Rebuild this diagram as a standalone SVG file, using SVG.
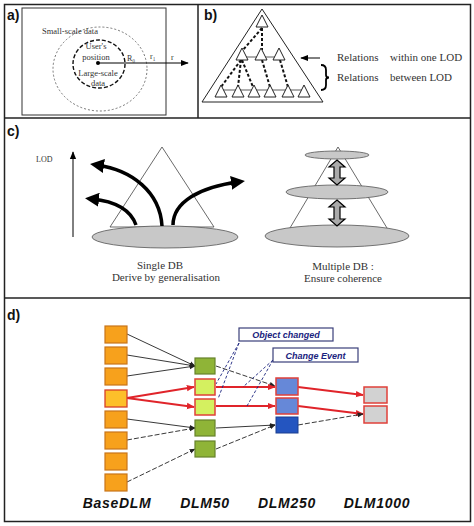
<svg xmlns="http://www.w3.org/2000/svg" width="474" height="526" viewBox="0 0 474 526">
<style>
.frame{fill:none;stroke:#222;stroke-width:1.5}
.lbl{font-family:"Liberation Sans",Arial,sans-serif;font-weight:bold;font-size:14px;fill:#111}
.ser{font-family:"Liberation Serif","Times New Roman",serif;fill:#333}
.thin{fill:none;stroke:#333;stroke-width:0.8}
.tri{fill:#fff;stroke:#222;stroke-width:1}
.dash{fill:none;stroke:#111;stroke-width:2;stroke-dasharray:3,2}
.curve{fill:none;stroke:#000;stroke-width:3.5}
.ell{fill:#c8c8c8;stroke:#555;stroke-width:0.8}
.dbl{fill:#aaa;stroke:#000;stroke-width:1.2}
.ob{fill:#f7a11c;stroke:#c9751a;stroke-width:1.2}
.gb{fill:#8fb437;stroke:#66822a;stroke-width:1.2}
.lg{fill:#d4f060;stroke:#e0403a;stroke-width:1.5}
.bb{fill:#6688d8;stroke:#e0403a;stroke-width:1.5}
.db{fill:#2455c0;stroke:#1b3f90;stroke-width:1}
.gy{fill:#d2d2d2;stroke:#e0403a;stroke-width:1.5}
.bk{fill:none;stroke:#222;stroke-width:0.9}
.bkd{fill:none;stroke:#222;stroke-width:0.9;stroke-dasharray:5,2}
.rd{fill:none;stroke:#e0242a;stroke-width:1.8}
.call{fill:none;stroke:#1a237e;stroke-width:0.9;stroke-dasharray:3,2}
.cb{fill:#fff;stroke:#3a3f7a;stroke-width:1.2}
.ct{font-family:"Liberation Sans",Arial,sans-serif;font-weight:bold;font-style:italic;font-size:9px;fill:#1a237e}
.dl{font-family:"Liberation Sans",Arial,sans-serif;font-weight:bold;font-style:italic;font-size:14px;fill:#111;letter-spacing:0.7px}
</style>
<defs>
<marker id="ahs" viewBox="0 0 10 10" refX="9" refY="5" markerWidth="8" markerHeight="8" markerUnits="userSpaceOnUse" orient="auto"><path d="M0,1 L10,5 L0,9 z" fill="#000"/></marker>
<marker id="ahb" viewBox="0 0 10 10" refX="5" refY="5" markerWidth="4" markerHeight="4" orient="auto"><path d="M0,0 L10,5 L0,10 z" fill="#000"/></marker>
<marker id="ahk" viewBox="0 0 10 10" refX="9" refY="5" markerWidth="6" markerHeight="6" markerUnits="userSpaceOnUse" orient="auto"><path d="M0,1 L10,5 L0,9 z" fill="#222"/></marker>
<marker id="ahr" viewBox="0 0 10 10" refX="9" refY="5" markerWidth="8" markerHeight="8" markerUnits="userSpaceOnUse" orient="auto"><path d="M0,1 L10,5 L0,9 z" fill="#e0242a"/></marker>
</defs>
<rect width="474" height="526" fill="#fff"/>
<!-- frames -->
<rect class="frame" x="4.5" y="4.5" width="466" height="517"/>
<line class="frame" x1="4.5" y1="118" x2="470.5" y2="118"/>
<line class="frame" x1="4.5" y1="298" x2="470.5" y2="298"/>
<line class="frame" x1="198" y1="4.5" x2="198" y2="118"/>

<!-- panel a -->
<g id="panel-a">
<text class="lbl" x="7" y="20">a)</text>
<rect x="22" y="8" width="144" height="107" fill="none" stroke="#333" stroke-width="1"/>
<ellipse cx="100" cy="69" rx="47" ry="42" fill="none" stroke="#666" stroke-width="0.9" stroke-dasharray="2,2"/>
<ellipse cx="99" cy="64" rx="26" ry="24" fill="none" stroke="#111" stroke-width="1.4" stroke-dasharray="4,2"/>
<line x1="98" y1="63" x2="188" y2="63" stroke="#000" stroke-width="1" marker-end="url(#ahs)"/>
<circle cx="98" cy="63" r="2" fill="#000"/>
<text class="ser" x="42" y="34" font-size="8.5">Small-scale data</text>
<text class="ser" x="96" y="49" font-size="8.5" text-anchor="middle">User's</text>
<text class="ser" x="96" y="60" font-size="8.5" text-anchor="middle">position</text>
<text class="ser" x="98" y="76" font-size="8.5" text-anchor="middle">Large-scale</text>
<text class="ser" x="98" y="86" font-size="8.5" text-anchor="middle">data</text>
<text class="ser" x="127" y="61" font-size="8">R₀</text>
<text class="ser" x="150" y="59" font-size="8">r₁</text>
<text class="ser" x="171" y="60" font-size="8">r</text>
</g>

<!-- panel b -->
<g id="panel-b">
<text class="lbl" x="204" y="20">b)</text>
<polygon class="tri" points="262,9 202,102 323,102"/>
<line class="thin" x1="242" y1="57" x2="279" y2="57"/>
<line class="thin" x1="221" y1="90" x2="304" y2="90"/>
<g class="dash">
<line x1="262" y1="28" x2="243" y2="50"/>
<line x1="262" y1="28" x2="262" y2="50"/>
<line x1="241" y1="60" x2="221" y2="87"/>
<line x1="241" y1="60" x2="238" y2="87"/>
<line x1="242" y1="60" x2="253" y2="87"/>
<line x1="262" y1="60" x2="270" y2="87"/>
<line x1="280" y1="60" x2="288" y2="87"/>
</g>
<polygon class="tri" points="262,15 256,27 268,27"/>
<polygon class="tri" points="242,48 236,60 248,60"/>
<polygon class="tri" points="261,48 255,60 267,60"/>
<polygon class="tri" points="279,48 273,60 285,60"/>
<polygon class="tri" points="221,85 215,97 227,97"/>
<polygon class="tri" points="238,85 232,97 244,97"/>
<polygon class="tri" points="254,85 248,97 260,97"/>
<polygon class="tri" points="270,85 264,97 276,97"/>
<polygon class="tri" points="288,85 282,97 294,97"/>
<polygon class="tri" points="304,85 298,97 310,97"/>
<line x1="320" y1="58" x2="301" y2="58" stroke="#000" stroke-width="1" marker-end="url(#ahs)"/>
<path d="M321,65 Q326,65 326,70 L326,75 Q326,77.5 329,77.5 Q326,77.5 326,80 L326,85 Q326,90 321,90" fill="none" stroke="#000" stroke-width="1.8"/>
<text class="ser" x="337" y="61" font-size="11">Relations</text>
<text class="ser" x="390" y="61" font-size="11">within one LOD</text>
<text class="ser" x="337" y="81" font-size="11">Relations</text>
<text class="ser" x="390" y="81" font-size="11">between LOD</text>
</g>

<!-- panel c -->
<g id="panel-c">
<text class="lbl" x="7" y="136">c)</text>
<line x1="73" y1="237" x2="73" y2="152" stroke="#000" stroke-width="1" marker-end="url(#ahs)"/>
<text class="ser" x="36" y="162" font-size="8">LOD</text>
<polygon points="162,147 110,227 214,227" fill="#fff" stroke="#444" stroke-width="0.8"/>
<ellipse class="ell" cx="165" cy="237" rx="73" ry="11"/>
<path class="curve" d="M162,226 C160,192 132,170 97,165" marker-end="url(#ahb)"/>
<path class="curve" d="M136,225 C130,208 112,201 92,199" marker-end="url(#ahb)"/>
<path class="curve" d="M173,225 C173,202 200,187 238,182" marker-end="url(#ahb)"/>
<text class="ser" x="160" y="269" font-size="11" text-anchor="middle">Single DB</text>
<text class="ser" x="166" y="281" font-size="11" text-anchor="middle">Derive  by generalisation</text>

<polygon points="338,147 287,233 390,233" fill="#fff" stroke="#444" stroke-width="0.8"/>
<ellipse class="ell" cx="337" cy="155" rx="32" ry="4"/>
<ellipse class="ell" cx="337" cy="192" rx="51" ry="7"/>
<ellipse class="ell" cx="337" cy="236" rx="72" ry="11"/>
<polygon class="dbl" points="337,160 345,167 340,167 340,178 345,178 337,185 329,178 334,178 334,167 329,167"/>
<polygon class="dbl" points="337,200 345,207 340,207 340,219 345,219 337,226 329,219 334,219 334,207 329,207"/>
<text class="ser" x="343" y="270" font-size="11" text-anchor="middle">Multiple DB :</text>
<text class="ser" x="343" y="282" font-size="11" text-anchor="middle">Ensure  coherence</text>
</g>

<!-- panel d -->
<text class="lbl" x="7" y="320">d)</text>
<g id="connectors">
<line class="bk" x1="127" y1="334" x2="195" y2="366" marker-end="url(#ahk)"/>
<line class="bk" x1="127" y1="355" x2="195" y2="366" marker-end="url(#ahk)"/>
<line class="bk" x1="127" y1="376" x2="195" y2="366" marker-end="url(#ahk)"/>
<line class="rd" x1="127" y1="398" x2="194" y2="387" marker-end="url(#ahr)"/>
<line class="rd" x1="127" y1="398" x2="194" y2="407" marker-end="url(#ahr)"/>
<line class="bk" x1="127" y1="419" x2="195" y2="428" marker-end="url(#ahk)"/>
<line class="bkd" x1="127" y1="440" x2="195" y2="428" marker-end="url(#ahk)"/>
<line class="bkd" x1="127" y1="482" x2="195" y2="449" marker-end="url(#ahk)"/>
<line class="bkd" x1="216" y1="366" x2="275" y2="386" marker-end="url(#ahk)"/>
<line class="rd" x1="216" y1="387" x2="275" y2="387" marker-end="url(#ahr)"/>
<line class="rd" x1="216" y1="406" x2="275" y2="406" marker-end="url(#ahr)"/>
<line class="bk" x1="216" y1="428" x2="275" y2="425" stroke="#777" marker-end="url(#ahk)"/>
<line class="bkd" x1="216" y1="449" x2="275" y2="425" marker-end="url(#ahk)"/>
<line class="rd" x1="298" y1="387" x2="363" y2="395" marker-end="url(#ahr)"/>
<line class="rd" x1="298" y1="406" x2="363" y2="414" marker-end="url(#ahr)"/>
<line class="bkd" x1="298" y1="425" x2="363" y2="414" marker-end="url(#ahk)"/>
<line class="call" x1="239" y1="343" x2="216" y2="384"/>
<line class="call" x1="239" y1="343" x2="218" y2="399"/>
<line class="call" x1="273" y1="360" x2="243" y2="387"/>
<line class="call" x1="273" y1="360" x2="247" y2="406"/>
</g>
<g id="base-dlm">
<rect class="ob" x="105" y="326" width="22" height="17"/>
<rect class="ob" x="105" y="347" width="22" height="17"/>
<rect class="ob" x="105" y="368" width="22" height="17"/>
<rect x="105" y="390" width="22" height="17" fill="#fdbf2a" stroke="#d8402a" stroke-width="1.3"/>
<rect class="ob" x="105" y="411" width="22" height="17"/>
<rect class="ob" x="105" y="432" width="22" height="17"/>
<rect class="ob" x="105" y="453" width="22" height="17"/>
<rect class="ob" x="105" y="474" width="22" height="17"/>
</g>
<g id="dlm50">
<rect class="gb" x="195" y="358" width="20" height="16"/>
<rect class="lg" x="195" y="379" width="20" height="16"/>
<rect class="lg" x="195" y="399" width="20" height="16"/>
<rect class="gb" x="195" y="420" width="20" height="16"/>
<rect class="gb" x="195" y="441" width="20" height="16"/>
</g>
<g id="dlm250">
<rect class="bb" x="276" y="378" width="22" height="17"/>
<rect class="bb" x="276" y="398" width="22" height="16"/>
<rect class="db" x="276" y="417" width="22" height="16"/>
</g>
<g id="dlm1000">
<rect class="gy" x="364" y="387" width="23" height="16"/>
<rect class="gy" x="364" y="406" width="23" height="17"/>
</g>
<g id="object-changed">
<rect class="cb" x="239" y="328" width="94" height="13"/>
<text class="ct" x="286" y="338" text-anchor="middle">Object changed</text>
</g>
<g id="change-event">
<rect class="cb" x="273" y="348" width="85" height="14"/>
<text class="ct" x="315.5" y="358.5" text-anchor="middle">Change Event</text>
</g>
<g id="labels">
<text class="dl" x="117" y="508" text-anchor="middle">BaseDLM</text>
<text class="dl" x="205" y="508" text-anchor="middle">DLM50</text>
<text class="dl" x="287" y="508" text-anchor="middle">DLM250</text>
<text class="dl" x="377" y="508" text-anchor="middle">DLM1000</text>
</g>
</svg>
